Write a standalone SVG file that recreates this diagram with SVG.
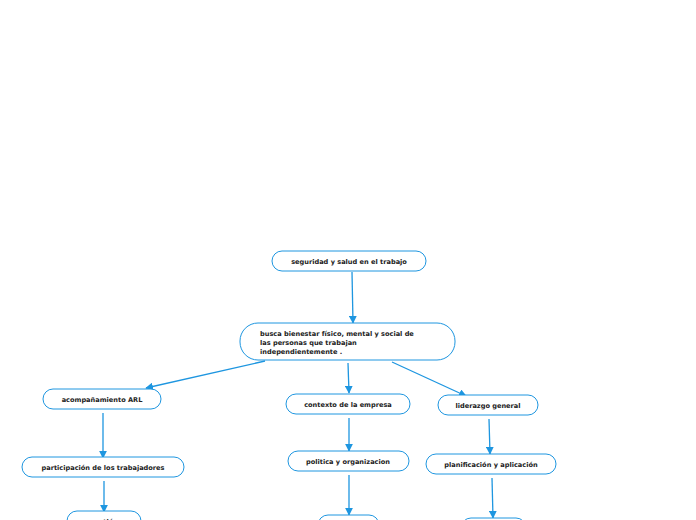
<svg xmlns="http://www.w3.org/2000/svg" width="696" height="520" viewBox="0 0 696 520">
<defs>
<style>
.n{fill:#fff;stroke:#1e96e0;stroke-width:1}
.t{font-family:"DejaVu Sans",Verdana,sans-serif;font-size:6.6px;font-weight:bold;fill:#222}
.c{stroke:#1e96e0;stroke-width:1.3;fill:none;marker-end:url(#a)}
</style>
<marker id="a" viewBox="0 0 10 10" refX="9" refY="5" markerWidth="6" markerHeight="6" orient="auto"><path d="M0,0L10,5L0,10z" fill="#1e96e0"/></marker>
</defs>
<rect width="696" height="520" fill="#fff"/>
<g id="connectors">
<path class="c" d="M352,272L353,323"/>
<path class="c" d="M265,361L146,388"/>
<path class="c" d="M348,363L349,393"/>
<path class="c" d="M392,362L466,396"/>
<path class="c" d="M103,413L103,458"/>
<path class="c" d="M104,481L104,512"/>
<path class="c" d="M349,418L349,451"/>
<path class="c" d="M349,475L349,515"/>
<path class="c" d="M489,419L490,454"/>
<path class="c" d="M492,478L493,518"/>
</g>
<g id="n1"><rect class="n" x="272" y="251" width="154" height="20" rx="10"/><text class="t" x="349" y="263.5" text-anchor="middle">seguridad y salud en el trabajo</text></g>
<g id="n2"><rect class="n" x="240" y="323" width="215" height="37" rx="18"/><text class="t" x="260" y="335.5">busca bienestar físico, mental y social de</text><text class="t" x="260" y="344.5">las personas que trabajan</text><text class="t" x="260" y="353.5">independientemente .</text></g>
<g id="n3"><rect class="n" x="43" y="389" width="118" height="20" rx="10"/><text class="t" x="102" y="401.5" text-anchor="middle">acompañamiento ARL</text></g>
<g id="n4"><rect class="n" x="22" y="457" width="162" height="20" rx="10"/><text class="t" x="103" y="469.5" text-anchor="middle">participación de los trabajadores</text></g>
<g id="n5"><rect class="n" x="67" y="511" width="74" height="20" rx="10"/><text class="t" x="104" y="523.5" text-anchor="middle">gestión</text></g>
<g id="n6"><rect class="n" x="286" y="394" width="124" height="20" rx="10"/><text class="t" x="348" y="406.5" text-anchor="middle">contexto de la empresa</text></g>
<g id="n7"><rect class="n" x="288" y="451" width="121" height="20" rx="10"/><text class="t" x="348" y="463.5" text-anchor="middle">politica y organizacion</text></g>
<g id="n8"><rect class="n" x="318" y="515" width="61" height="20" rx="10"/></g>
<g id="n9"><rect class="n" x="438" y="395" width="100" height="20" rx="10"/><text class="t" x="488" y="407.5" text-anchor="middle">liderazgo general</text></g>
<g id="n10"><rect class="n" x="426" y="454" width="130" height="20" rx="10"/><text class="t" x="491" y="466.5" text-anchor="middle">planificación y aplicación</text></g>
<g id="n11"><rect class="n" x="461" y="518" width="65" height="20" rx="10"/></g>
</svg>
